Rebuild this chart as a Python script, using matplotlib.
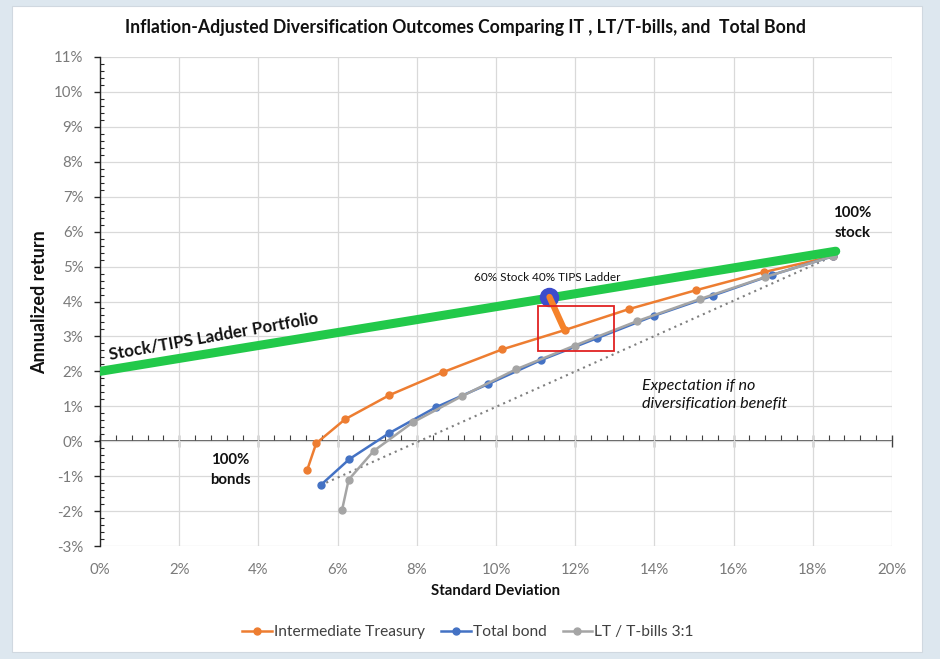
import matplotlib
matplotlib.use("Agg")
import matplotlib.pyplot as plt
from matplotlib.patches import Rectangle
from matplotlib.ticker import MultipleLocator, FuncFormatter
import numpy as np

plt.rcParams['font.family'] = ['Lato', 'DejaVu Sans']

# ---- data (percent) ----
it_sd = [5.23, 5.46, 6.19, 7.31, 8.67, 10.16, 11.73, 13.35, 15.04, 16.76, 18.52]
it_ret = [-0.83, -0.06, 0.63, 1.32, 1.98, 2.63, 3.18, 3.78, 4.32, 4.84, 5.30]

tb_sd = [5.57, 6.30, 7.30, 8.48, 9.79, 11.13, 12.55, 13.99, 15.48, 16.97, 18.52]
tb_ret = [-1.26, -0.51, 0.23, 0.97, 1.63, 2.32, 2.95, 3.59, 4.17, 4.76, 5.30]

lt_sd = [6.11, 6.28, 6.91, 7.90, 9.14, 10.51, 11.99, 13.57, 15.15, 16.80, 18.52]
lt_ret = [-1.98, -1.10, -0.28, 0.54, 1.29, 2.06, 2.74, 3.44, 4.07, 4.70, 5.30]

# no-diversification expectation line (100% bonds -> 100% stock)
nodiv_sd = [5.57, 18.52]
nodiv_ret = [-1.26, 5.30]

# Stock/TIPS ladder portfolio line
tips_sd = [0.0, 18.58]
tips_ret = [2.0, 5.44]

# 60/40 stock/TIPS point and link to IT curve
p6040_sd, p6040_ret = 11.35, 4.13
link_sd = [11.35, 11.73]
link_ret = [4.13, 3.18]

# highlight box
box_sd = [11.05, 12.97]
box_ret = [2.58, 3.87]

title = "Inflation-Adjusted Diversification Outcomes Comparing IT , LT/T-bills, and  Total Bond"

W, H = 940, 659
fig = plt.figure(figsize=(W/100, H/100), dpi=100)
fig.patch.set_facecolor('#dde7ef')
fig.patches.append(Rectangle((12/W, 1-652/H), (922-12)/W, (652-6)/H,
                             transform=fig.transFigure, facecolor='white',
                             edgecolor='#d0d8e0', linewidth=0.8, zorder=-5))

ax = fig.add_axes([100/W, 1-546/H, (892-100)/W, (546-57)/H])
ax.set_zorder(2)
ax.set_facecolor('white')
ax.set_xlim(0, 20)
ax.set_ylim(-3, 11)

ax.xaxis.set_major_locator(MultipleLocator(2))
ax.yaxis.set_major_locator(MultipleLocator(1))
ax.yaxis.set_minor_locator(MultipleLocator(0.2))
ax.grid(True, which='major', color='#d9d9d9', linewidth=0.9)
ax.set_axisbelow(True)

for s in ['top', 'right', 'bottom']:
    ax.spines[s].set_visible(False)
ax.spines['left'].set_color('#262626')
ax.spines['left'].set_linewidth(1.0)

tick_gray = '#7a7a7a'
fmt = FuncFormatter(lambda v, p: f"{v:.0f}%")
ax.xaxis.set_major_formatter(fmt)
ax.yaxis.set_major_formatter(fmt)
ax.tick_params(axis='x', which='both', length=0, pad=12, labelsize=10.8, labelcolor=tick_gray)
ax.tick_params(axis='y', which='major', direction='out', length=4.5, width=1.0,
               color='#262626', labelsize=10.8, labelcolor=tick_gray, pad=7.5)
ax.tick_params(axis='y', which='minor', direction='in', length=3, width=0.8, color='#262626')

# x axis line at y=0 with ticks
y0 = (0 - ax.get_ylim()[0]) / (ax.get_ylim()[1] - ax.get_ylim()[0])
sec = ax.secondary_xaxis(y0)
sec.spines['bottom'].set_color('#404040')
sec.spines['bottom'].set_linewidth(1.2)
sec.xaxis.set_major_locator(MultipleLocator(2))
sec.xaxis.set_minor_locator(MultipleLocator(0.4))
sec.tick_params(which='major', direction='inout', length=8, width=1.0, color='#404040',
                labelbottom=False)
sec.tick_params(which='minor', direction='in', length=4, width=0.8, color='#404040')

# series
ax.plot(nodiv_sd, nodiv_ret, linestyle=(0, (1, 2)), color='#7f7f7f', linewidth=1.5, zorder=2)
ax.plot(it_sd, it_ret, color='#ED7D31', linewidth=1.8, marker='o', markersize=5,
        label='Intermediate Treasury', zorder=3)
ax.plot(tb_sd, tb_ret, color='#4472C4', linewidth=1.8, marker='o', markersize=5,
        label='Total bond', zorder=3)
ax.plot(lt_sd, lt_ret, color='#A5A5A5', linewidth=1.8, marker='o', markersize=5,
        label='LT / T-bills 3:1', zorder=3)

ax.plot(tips_sd, tips_ret, color='#22c94a', linewidth=6.5, solid_capstyle='round', zorder=4)
ax.plot([p6040_sd], [p6040_ret], marker='o', markersize=13, color='#3b4ccc', zorder=5)
ax.plot(link_sd, link_ret, color='#F5822A', linewidth=4.5, solid_capstyle='round', zorder=6)

ax.add_patch(Rectangle((box_sd[0], box_ret[0]), box_sd[1]-box_sd[0], box_ret[1]-box_ret[0],
                       fill=False, edgecolor='#e02222', linewidth=1.3, zorder=7))

# annotations
ax.text(11.3, 4.7, "60% Stock 40% TIPS Ladder", fontsize=8.5, ha='center', va='center',
        color='#111111', zorder=8)
ax.text(2.88, 3.0, "Stock/TIPS Ladder Portfolio", fontsize=12.2, fontweight='bold',
        ha='center', va='center', rotation=10, color='#111111', zorder=8)
ax.text(19.0, 6.25, "100%\nstock", fontsize=10.8, fontweight='bold', ha='center',
        va='center', linespacing=1.5, color='#111111')
ax.text(3.29, -0.82, "100%\nbonds", fontsize=10.8, fontweight='bold', ha='center',
        va='center', linespacing=1.5, color='#111111')
ax.text(13.68, 1.32, "Expectation if no\ndiversification benefit", fontsize=11.6,
        fontstyle='italic', ha='left', va='center', linespacing=1.3, color='#111111')

fig.text(0.495, 1-28/H, title, fontsize=12.7, fontweight='bold', ha='center', va='center',
         color='#111111')
fig.text(496/W, 1-591/H, "Standard Deviation", fontsize=10.8, fontweight='bold',
         ha='center', va='center', color='#111111')
fig.text(40/W, 1-302/H, "Annualized return", fontsize=13, fontweight='bold',
         ha='center', va='center', rotation=90, color='#111111')

fig.legend(loc='center', bbox_to_anchor=(468/W, 1-632/H), ncol=3, frameon=False,
           fontsize=11.2, handlelength=1.9, columnspacing=1.05, handletextpad=0.12,
           labelcolor='#404040')

fig.savefig('out.png', dpi=100, facecolor=fig.get_facecolor())
